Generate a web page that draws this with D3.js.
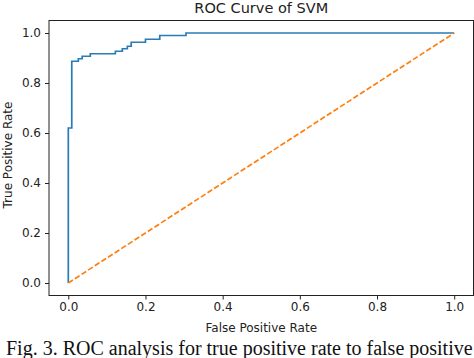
<!DOCTYPE html>
<html><head><meta charset="utf-8">
<script src="https://cdn.jsdelivr.net/npm/d3@7"></script>
<style>body{margin:0;background:#fff}svg{display:block}</style>
</head><body>
<script>
const fpr = [0,0,0.009,0.009,0.026,0.026,0.036,0.036,0.057,0.057,0.122,0.122,0.14,0.14,0.153,0.153,0.163,0.163,0.2,0.2,0.237,0.237,0.305,0.305,1.0];
const tpr = [0,0.62,0.62,0.887,0.887,0.897,0.897,0.907,0.907,0.917,0.917,0.927,0.927,0.937,0.937,0.947,0.947,0.963,0.963,0.975,0.975,0.99,0.99,1.0,1.0];
const chanceX = [0,1];
const chanceY = [0,1];
const ticks = [0,0.2,0.4,0.6,0.8,1.0];
const title = "ROC Curve of SVM";
const xLabel = "False Positive Rate";
const yLabel = "True Positive Rate";
const caption = "Fig. 3. ROC analysis for true positive rate to false positive";

const W=474,H=358;
const m={l:49,r:473.5,t:20.5,b:295.5};
const svg=d3.select("body").append("svg").attr("width",W).attr("height",H);
const x=d3.scaleLinear().domain([-0.05,1.05]).range([m.l,m.r]);
const y=d3.scaleLinear().domain([-0.05,1.05]).range([m.b,m.t]);
const font="DejaVu Sans";

const line=d3.line().x(d=>x(d[0])).y(d=>y(d[1]));
svg.append("path").datum(fpr.map((f,i)=>[f,tpr[i]]))
  .attr("d",line).attr("fill","none").attr("stroke","#2a7cb6").attr("stroke-width",1.7);
svg.append("path").datum(chanceX.map((f,i)=>[f,chanceY[i]]))
  .attr("d",line).attr("fill","none").attr("stroke","#ff7f0e").attr("stroke-width",1.7)
  .attr("stroke-dasharray","5.5,2.4");

const xa=svg.append("g").attr("transform",`translate(0,${m.b})`)
  .call(d3.axisBottom(x).tickValues(ticks).tickFormat(d3.format(".1f")).tickSize(4).tickPadding(3));
const ya=svg.append("g").attr("transform",`translate(${m.l},0)`)
  .call(d3.axisLeft(y).tickValues(ticks).tickFormat(d3.format(".1f")).tickSize(4).tickPadding(4));
[xa,ya].forEach(g=>{g.select(".domain").remove();
  g.selectAll("text").attr("font-family",font).attr("font-size",12).attr("fill","#222");
  g.selectAll("line").attr("stroke","#222");});

svg.append("rect").attr("x",m.l).attr("y",m.t).attr("width",m.r-m.l).attr("height",m.b-m.t)
  .attr("fill","none").attr("stroke","#222").attr("stroke-width",1);

svg.append("text").attr("x",(m.l+m.r)/2).attr("y",13).attr("text-anchor","middle")
  .attr("font-family",font).attr("font-size",14.5).attr("fill","#222").text(title);
svg.append("text").attr("x",(m.l+m.r)/2).attr("y",332).attr("text-anchor","middle")
  .attr("font-family",font).attr("font-size",12).attr("fill","#222").text(xLabel);
svg.append("text").attr("transform",`translate(12,${(m.t+m.b)/2 - 3}) rotate(-90)`).attr("text-anchor","middle")
  .attr("font-family",font).attr("font-size",12).attr("fill","#222").text(yLabel);
svg.append("text").attr("x",6).attr("y",355).attr("font-family","Liberation Serif")
  .attr("font-size",20).attr("fill","#111").text(caption);
</script>
</body></html>
